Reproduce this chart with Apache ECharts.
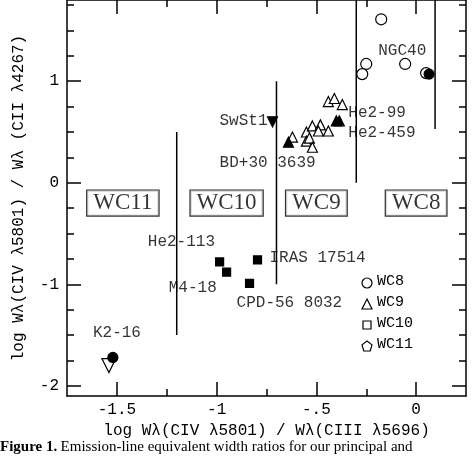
<!DOCTYPE html>
<html><head><meta charset="utf-8">
<script src="https://cdn.jsdelivr.net/npm/echarts@6/dist/echarts.min.js"></script>
<style>html,body{margin:0;padding:0;background:#fff}#c{width:474px;height:459px}</style>
</head><body><div id="c"></div>
<script>
const wc8Open = [[-0.175,1.61],[-0.25,1.17],[-0.27,1.07],[-0.055,1.17],[0.05,1.08]];
const wc8Filled = [[0.065,1.07]];
const wc9Open = [[-0.44,0.80],[-0.41,0.83],[-0.37,0.77],[-0.62,0.45],[-0.55,0.50],[-0.52,0.56],[-0.48,0.57],[-0.49,0.51],[-0.44,0.51],[-0.55,0.41],[-0.535,0.44],[-0.52,0.35]];
const wc9Filled = [[-0.64,0.40],[-0.40,0.61],[-0.385,0.61]];
const swst1 = [[-0.72,0.60]];
const wc10Filled = [[-0.985,-0.78],[-0.95,-0.88],[-0.835,-0.99],[-0.795,-0.76]];
const k2Filled = [[-1.52,-1.72]];
const k2Open = [[-1.54,-1.80]];
const dividers = [[[-1.2,0.5],[-1.2,-1.5]],[[-0.7,1.0],[-0.7,-1.0]],[[-0.3,1.9],[-0.3,0]],[[0.095,1.9],[0.095,0.53]]];
const classBoxes = [["WC11",-1.47,-0.2],["WC10",-0.95,-0.2],["WC9",-0.5,-0.2],["WC8",0,-0.2]];
const names = [["NGC40",-0.19,1.30,"left"],["SwSt1",-0.745,0.61,"right"],["He2-99",-0.34,0.69,"left"],["He2-459",-0.34,0.49,"left"],["BD+30 3639",-0.985,0.2,"left"],["He2-113",-1.345,-0.58,"left"],["IRAS 17514",-0.735,-0.74,"left"],["M4-18",-1.24,-1.03,"left"],["CPD-56 8032",-0.9,-1.18,"left"],["K2-16",-1.62,-1.48,"left"]];
const xTickValues = [-1.5,-1,-0.5,0];
const xTickLabels = ["-1.5","-1","-.5","0"];
const yTickValues = [-2,-1,0,1];
const yTickLabels = ["-2","-1","0","1"];
const legendItems = [["circle","WC8"],["triangle","WC9"],["rect","WC10"],["path://M0,-10L9.5,-3L6,8L-6,8L-9.5,-3Z","WC11"]];

const F = "Liberation Mono";
const tl = {color:'#000',width:1.5};
const mkX = (show, pos) => ({type:'value',min:-1.75,max:0.25,position:pos,
  customValues:xTickValues,
  axisLine:{show:true,onZero:false,lineStyle:tl},axisTick:{inside:true,length:14,customValues:xTickValues,lineStyle:tl},
  minorTick:{show:true,splitNumber:2,length:7,lineStyle:tl},
  splitLine:{show:false},axisLabel:{show:show,color:'#000',fontFamily:F,fontSize:16,margin:6,customValues:xTickValues,
  formatter:v=>{const i=xTickValues.findIndex(t=>Math.abs(t-v)<1e-6);return i<0?'':xTickLabels[i];}},
  name:show?'log W\u03bb(CIV \u03bb5801) / W\u03bb(CIII \u03bb5696)':'',nameLocation:'middle',nameGap:20,
  nameTextStyle:{color:'#000',fontFamily:F,fontSize:16}});
const mkY = (show, pos) => ({type:'value',min:-2.1,max:1.8,position:pos,
  customValues:yTickValues,
  axisLine:{show:true,onZero:false,lineStyle:tl},axisTick:{inside:true,length:14,customValues:yTickValues,lineStyle:tl},
  minorTick:{show:true,splitNumber:4,length:7,lineStyle:tl},
  splitLine:{show:false},axisLabel:{show:show,color:'#000',fontFamily:F,fontSize:16,margin:8,customValues:yTickValues,
  formatter:v=>{const i=yTickValues.findIndex(t=>Math.abs(t-v)<1e-6);return i<0?'':yTickLabels[i];}},
  name:show?'log W\u03bb(CIV \u03bb5801) / W\u03bb (CII \u03bb4267)':'',nameLocation:'middle',nameGap:40,
  nameTextStyle:{color:'#000',fontFamily:F,fontSize:16}});
const series = [];
const sc = (data, symbol, size, filled, rot) => series.push({type:'scatter',data,symbol,symbolSize:size,symbolRotate:rot||0,
  itemStyle:{color:filled?'#000':'#fff',borderColor:'#000',borderWidth:1.2,opacity:1},z:5});
sc(wc8Open,'circle',11,false);
sc(wc8Filled,'circle',10,true);
sc(wc9Open,'triangle',10,false);
sc(wc9Filled,'triangle',10,true);
sc(swst1,'triangle',10,true,180);
sc(wc10Filled,'rect',8,true);
sc(k2Open,'triangle',14,false,180);
sc(k2Filled,'circle',10,true);
dividers.forEach(d=>series.push({type:'line',data:d,symbol:'none',lineStyle:{color:'#000',width:1.5},z:3}));
series.push({type:'scatter',symbolSize:0,data:names.map(n=>({value:[n[1],n[2]],label:{show:true,position:'inside',align:n[3],formatter:n[0]}})),
  label:{color:'#000',fontFamily:F,fontSize:16},z:6});
series.push({type:'scatter',symbolSize:0,data:classBoxes.map(b=>({value:[b[1],b[2]],label:{show:true,position:'inside',formatter:b[0]}})),
  label:{color:'#000',fontFamily:'Liberation Serif',fontSize:23,backgroundColor:'#fff',borderColor:'#000',borderWidth:1.2,padding:[2,6,0,6]},z:6});
const graphic = [];
legendItems.forEach((l,i)=>{
  graphic.push({type:'text',left:377,top:274+i*21,style:{text:l[1],font:'15px "Liberation Mono"',fill:'#000'}});
});
const chart = echarts.init(document.getElementById('c'));
chart.setOption({
  animation:false,
  grid:{left:67,right:8,top:0,bottom:63},
  xAxis:[mkX(true,'bottom'),mkX(false,'top')],
  yAxis:[mkY(true,'left'),mkY(false,'right')],
  series,
  graphic:graphic.concat([
    {type:'text',left:0,top:440,style:{rich:{b:{font:'bold 15px "Liberation Serif"',fill:'#000'},n:{font:'15px "Liberation Serif"',fill:'#000'}},text:'{b|Figure 1.} {n|Emission-line equivalent width ratios for our principal and}'}}
  ])
});
const legSeries = legendItems.map((l,i)=>{
  const p = chart.convertFromPixel({gridIndex:0},[367,283+i*21]);
  return {type:'scatter',data:[p],symbol:l[0],symbolSize:l[0]==='rect'?8:10,itemStyle:{color:'#fff',borderColor:'#000',borderWidth:1.2,opacity:1},z:6};
});
chart.setOption({series:series.concat(legSeries)});
</script></body></html>
